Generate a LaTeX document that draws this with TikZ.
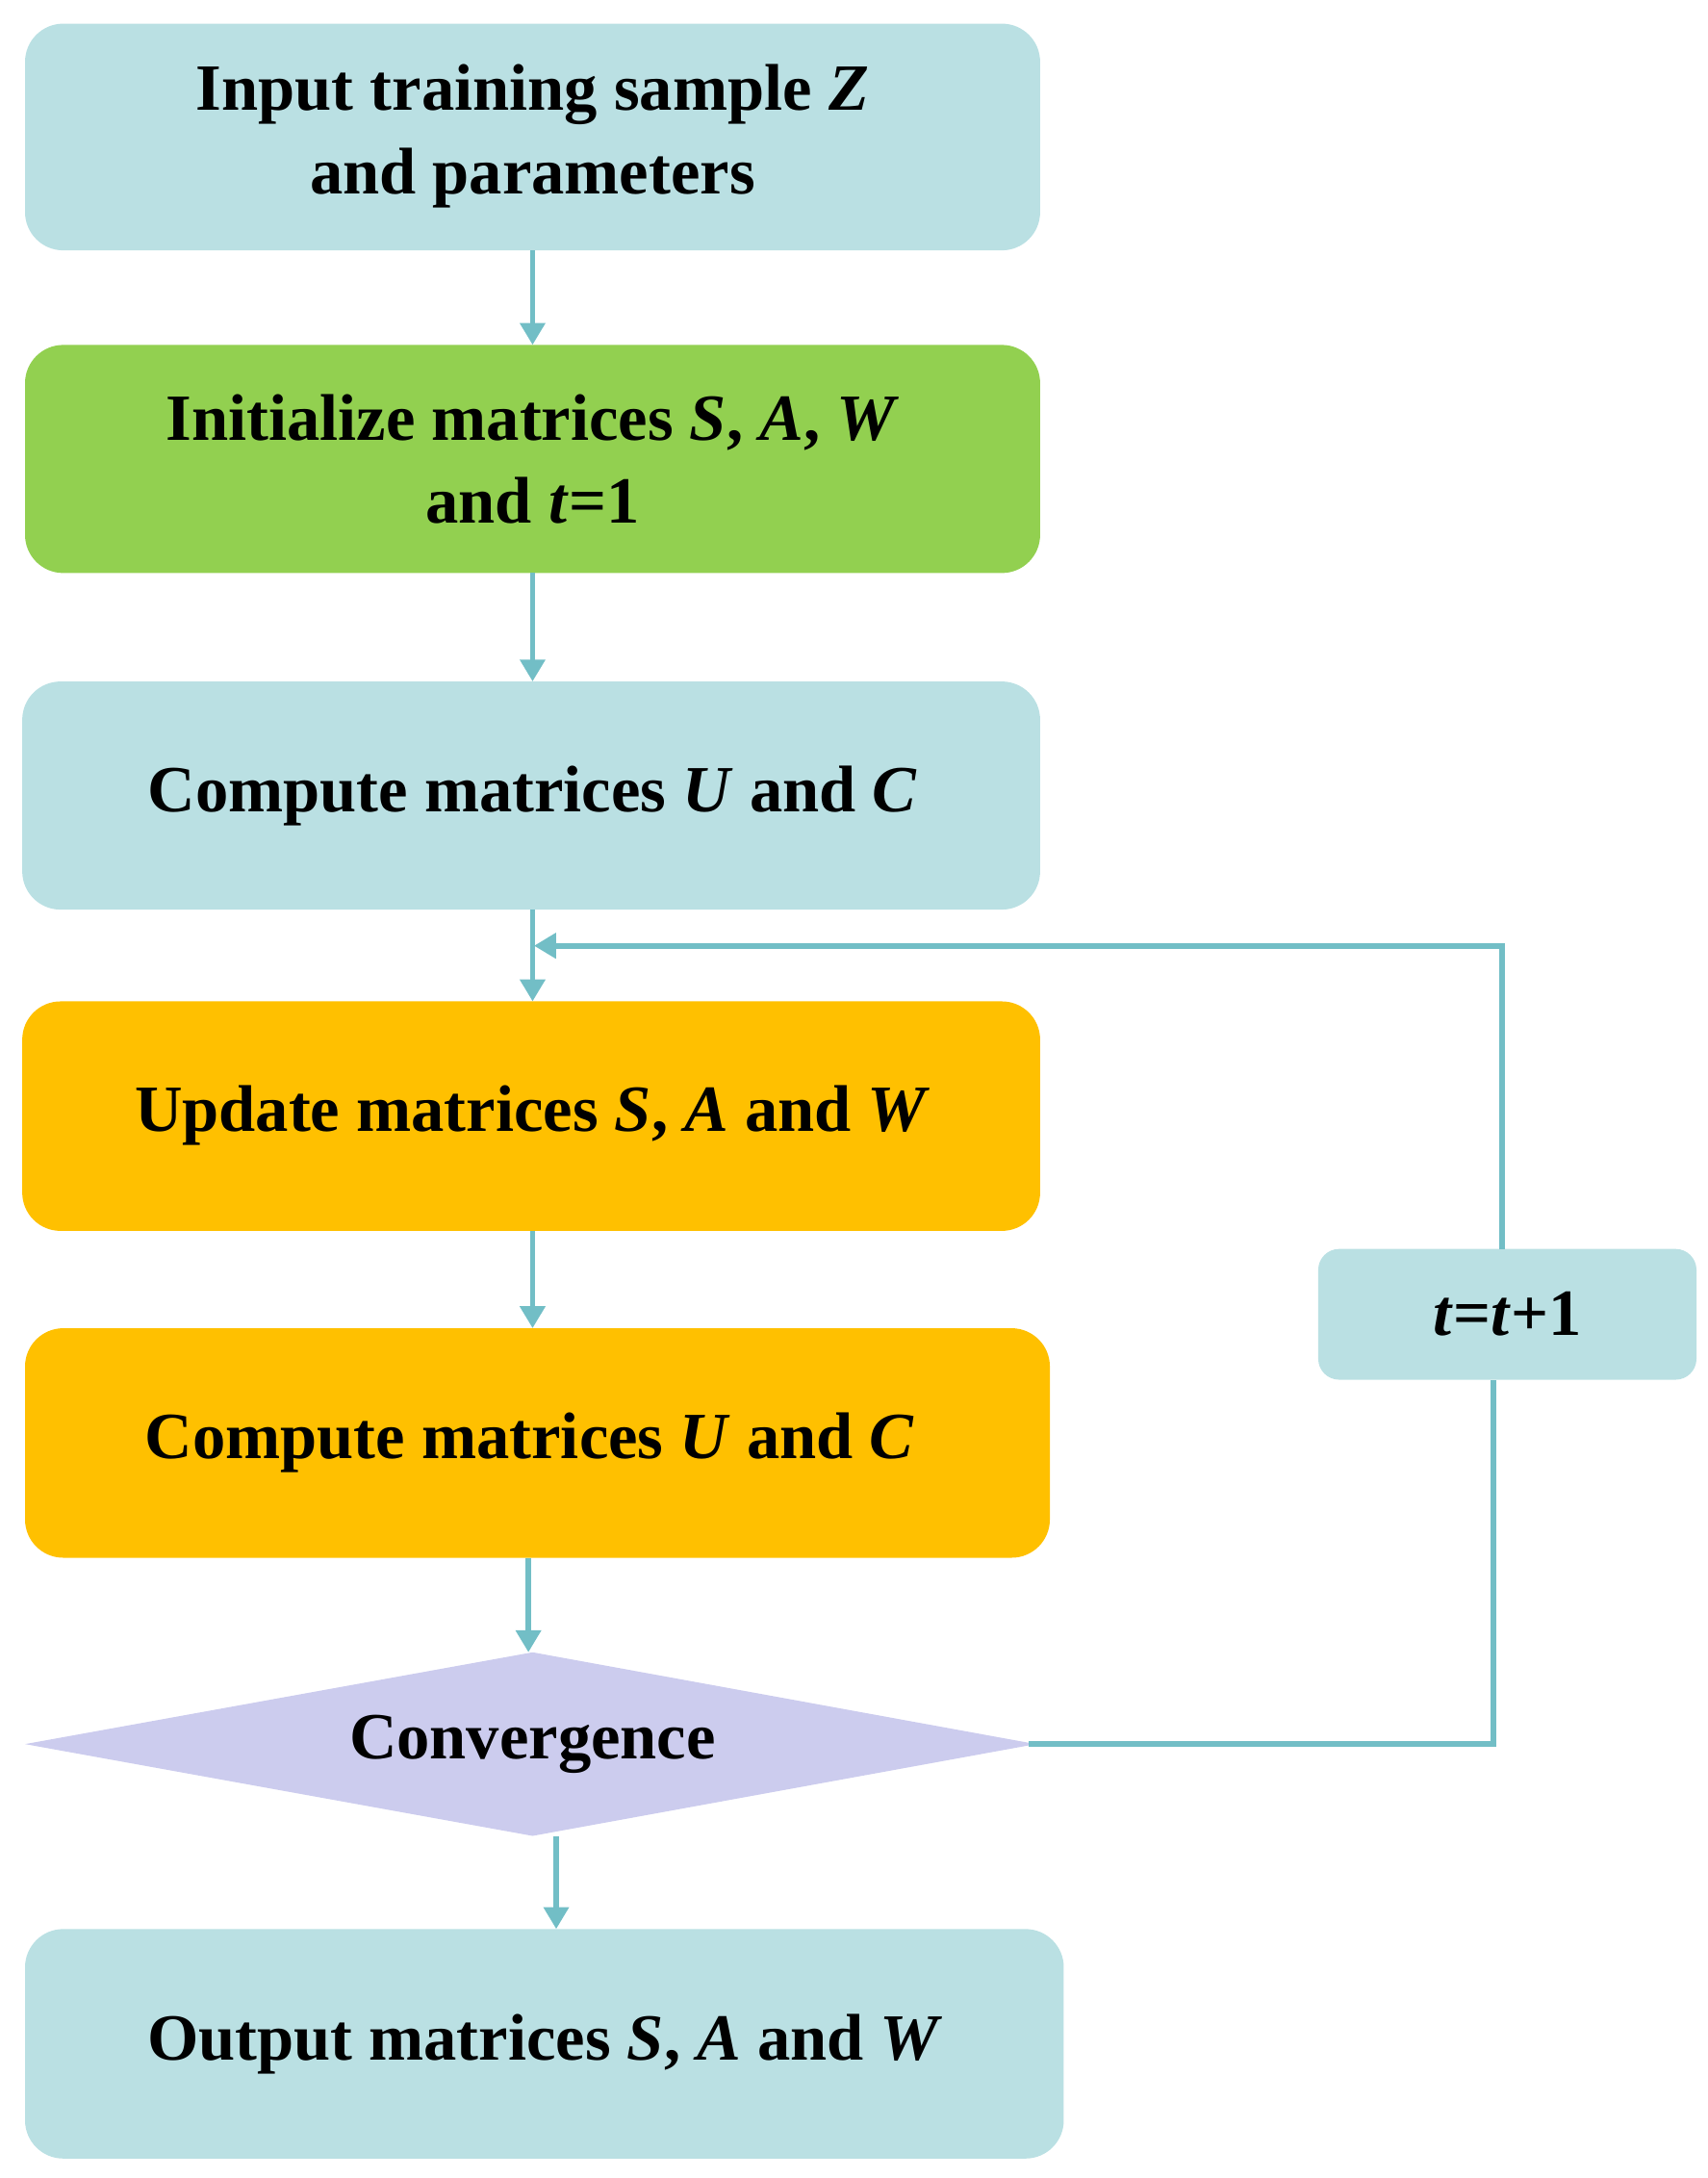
\documentclass[tikz,border=0pt]{standalone}
\usepackage{fontspec}
\setmainfont{Liberation Serif}
\usetikzlibrary{shapes.geometric,arrows.meta}
\definecolor{teal}{HTML}{BAE0E3}
\definecolor{grn}{HTML}{92D050}
\definecolor{org}{HTML}{FFC000}
\definecolor{lav}{HTML}{CCCCEE}
\definecolor{arr}{HTML}{72BEC6}
\begin{document}
\begin{tikzpicture}[x=0.02cm,y=-0.02cm,
 box/.style={draw=none,rounded corners=0.55cm,font=\fontsize{27}{34}\selectfont\bfseries,align=center,inner sep=0pt},
 con/.style={draw=arr,line width=2.3pt,-{Triangle[length=9pt,width=10pt]}},
 lin/.style={draw=arr,line width=2.3pt}]
\useasboundingbox (0,0) rectangle (1228,1566);
\fill[teal,rounded corners=0.55cm] (18,17) rectangle (748,180);
\node[box] (b1) at (383,98) {Input training sample \textit{Z}\\and parameters};
\fill[grn,rounded corners=0.55cm] (18,248) rectangle (748,412);
\node[box] (b2) at (383,330) {Initialize matrices \textit{S}, \textit{A}, \textit{W}\\and \textit{t}=1};
\fill[teal,rounded corners=0.55cm] (16,490) rectangle (748,654);
\node[box] (b3) at (383,572) {Compute matrices \textit{U} and \textit{C}};
\fill[org,rounded corners=0.55cm] (16,720) rectangle (748,885);
\node[box] (b4) at (383,802) {Update matrices \textit{S}, \textit{A} and \textit{W}};
\fill[org,rounded corners=0.55cm] (18,955) rectangle (755,1120);
\node[box] (b5) at (381,1037) {Compute matrices \textit{U} and \textit{C}};
\fill[lav] (18,1254) -- (383,1188) -- (745,1254) -- (383,1320) -- cycle;
\node[box] (b6) at (383,1254) {Convergence};
\fill[teal,rounded corners=0.55cm] (18,1387) rectangle (765,1552);
\node[box] (b7) at (392,1470) {Output matrices \textit{S}, \textit{A} and \textit{W}};
\fill[teal,rounded corners=0.3cm] (948,898) rectangle (1220,992);
\node[box] (b8) at (1084,945) {\textit{t}=\textit{t}+1};
\coordinate (p1) at (383,180); \coordinate (q1) at (383,248);
\coordinate (p2) at (383,412); \coordinate (q2) at (383,490);
\coordinate (p3) at (383,654); \coordinate (q3) at (383,720);
\coordinate (p4) at (383,885); \coordinate (q4) at (383,955);
\coordinate (p5) at (380,1120); \coordinate (q5) at (380,1188);
\coordinate (p6) at (400,1320); \coordinate (q6) at (400,1387);
\draw[con] (p1)--(q1);
\draw[con] (p2)--(q2);
\draw[con] (p3)--(q3);
\draw[con] (p4)--(q4);
\draw[con] (p5)--(q5);
\draw[con] (p6)--(q6);
\coordinate (d) at (740,1254);
\draw[lin] (d) -| (1074,992);
\draw[con] (1080,898) |- (384,680);
\end{tikzpicture}
\end{document}
